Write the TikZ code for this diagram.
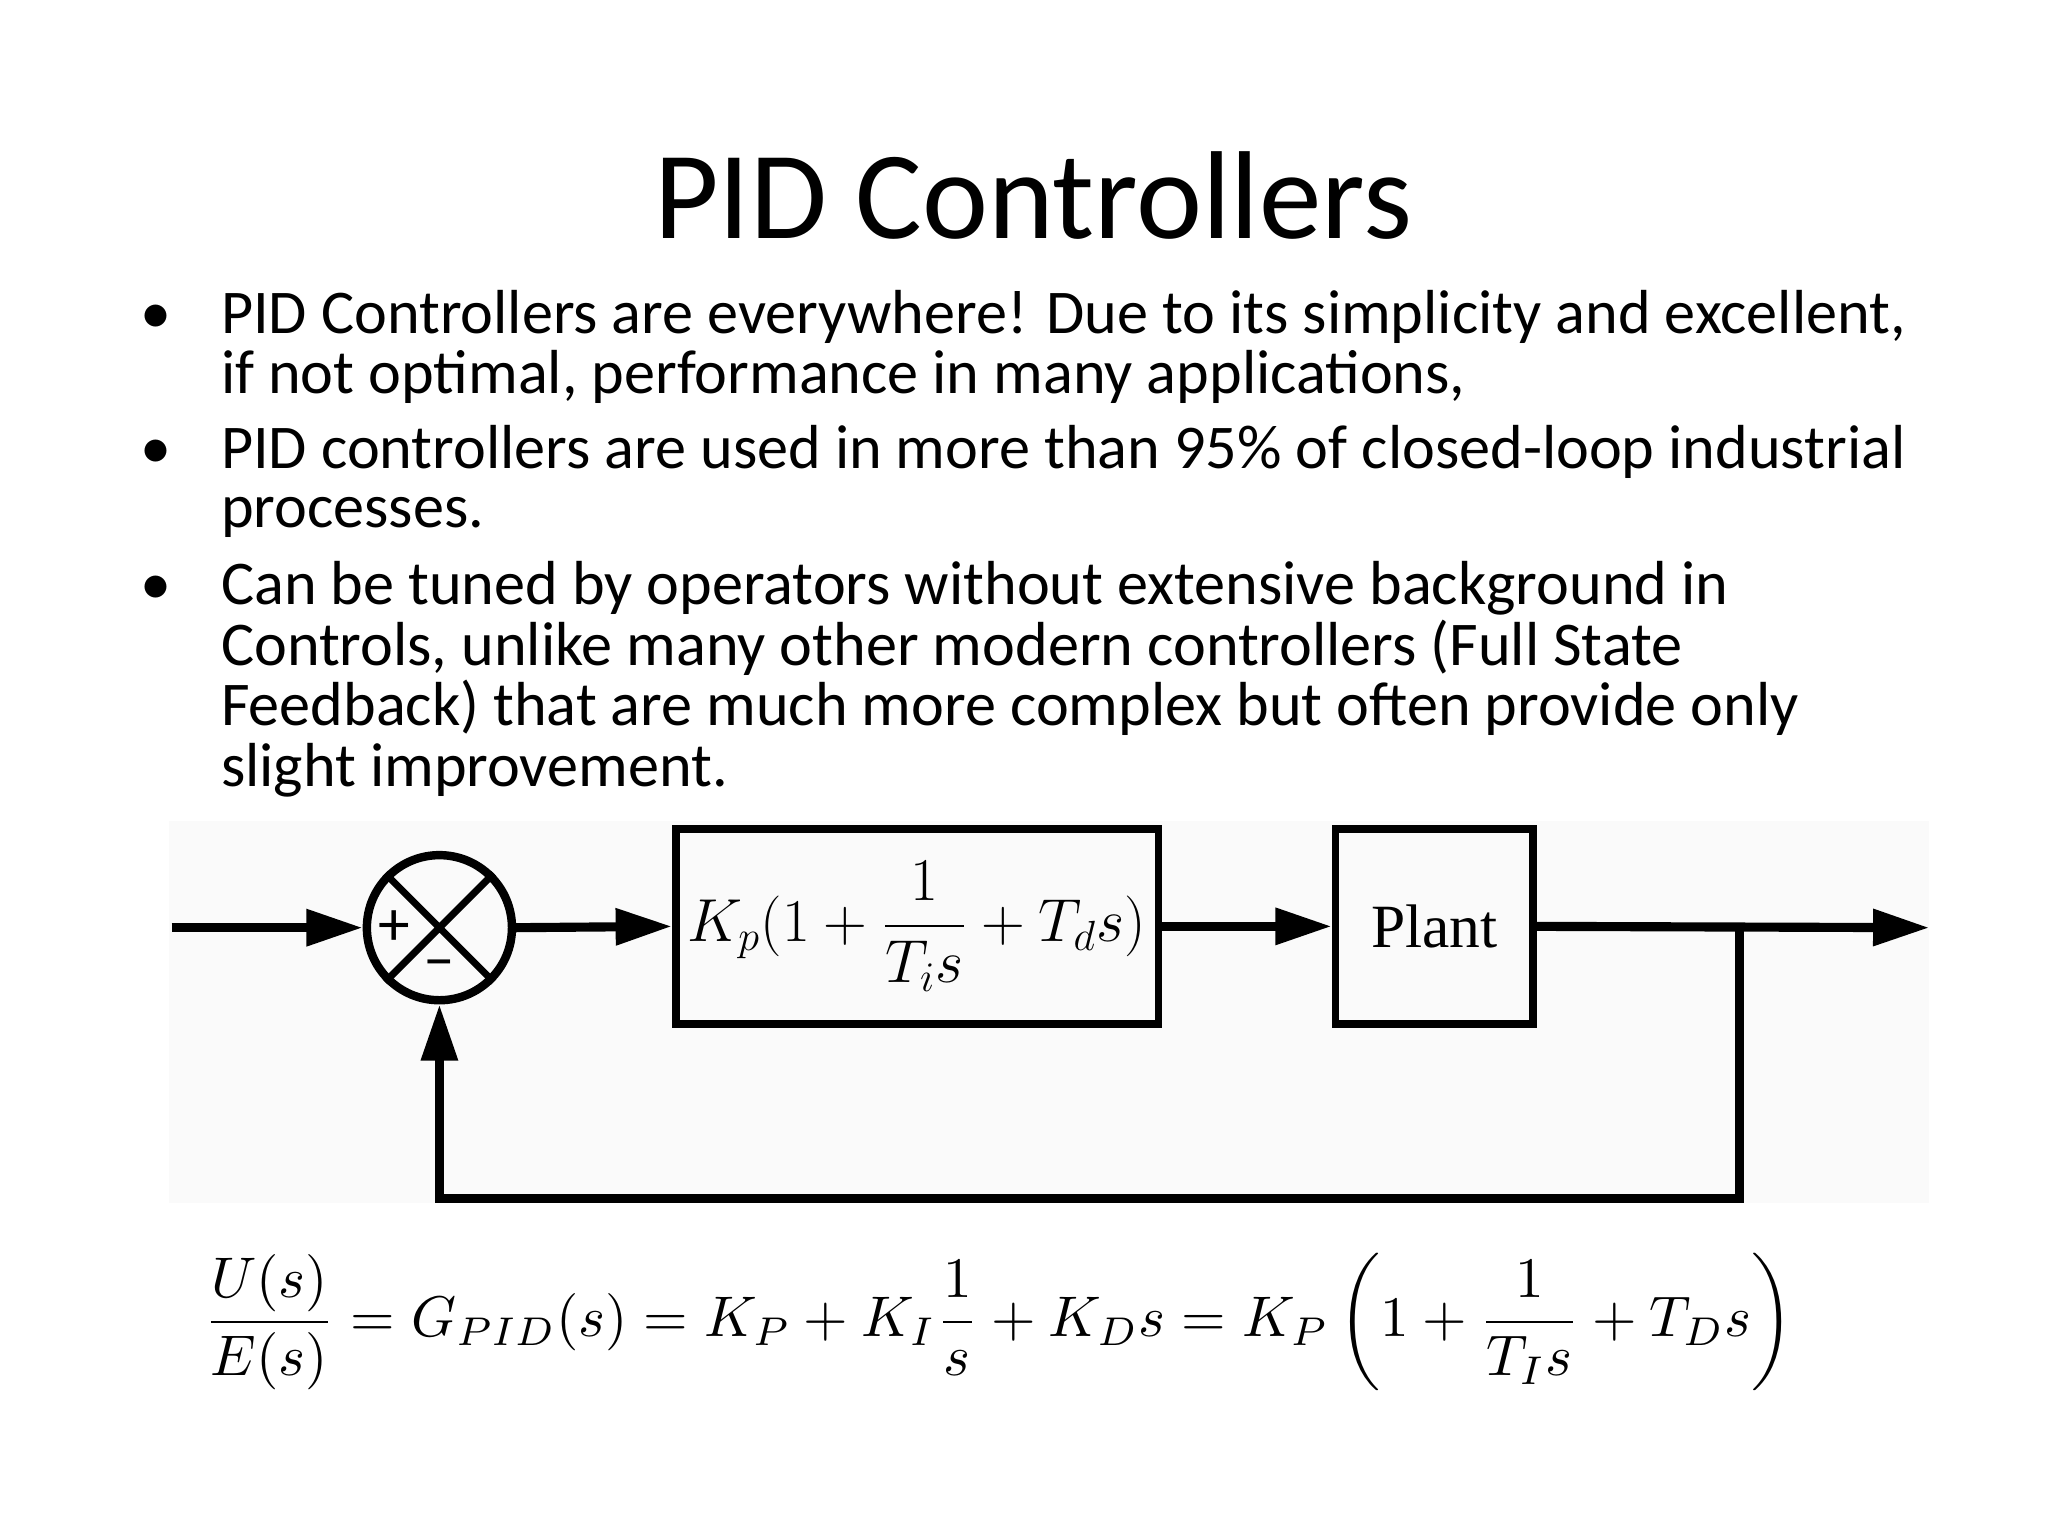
\documentclass[tikz,border=0pt]{standalone}
\usepackage{amsmath}
\usepackage{graphicx}
\usepackage{fontspec}
\setmainfont{Carlito}
\newfontfamily\ser{Liberation Serif}
\usetikzlibrary{arrows.meta}
\begin{document}
\begin{tikzpicture}[x=0.013196cm,y=-0.013196cm,
  ln/.style={line width=2.6pt},
  arr/.style={ln,-{Triangle[length=16pt,width=10pt]}},
  blk/.style={draw,line width=2.2pt,inner sep=0pt,font=\ser\fontsize{17.5}{19}\selectfont},
  bul/.style={anchor=base west,inner sep=0pt,font=\fontsize{17.7}{19}\selectfont}]
\useasboundingbox (0,0) rectangle (1552,1164);
\fill[gray!4] (128,622) rectangle (1462,912);
\node[font=\fontsize{35.6}{38}\selectfont] (title) at (783,148) {PID Controllers};
\node[bul] (b1) at (106,253) {•};
\node[bul] (t1a) at (167,253) {PID Controllers are everywhere! Due to its simplicity and excellent,};
\node[bul] (t1b) at (167,298) {if not optimal, performance in many applications,};
\node[bul] (b2) at (106,355) {•};
\node[bul] (t2a) at (167,355) {PID controllers are used in more than 95\% of closed-loop industrial};
\node[bul] (t2b) at (167,400) {processes.};
\node[bul] (b3) at (106,458) {•};
\node[bul] (t3a) at (167,458) {Can be tuned by operators without extensive background in};
\node[bul] (t3b) at (167,504) {Controls, unlike many other modern controllers (Full State};
\node[bul] (t3c) at (167,550) {Feedback) that are much more complex but often provide only};
\node[bul] (t3d) at (167,596) {slight improvement.};
% diagram
\coordinate (in) at (130,703);
\node[circle,draw,line width=2.4pt,minimum size=110*0.3754pt,inner sep=0pt] (sum) at (333,703) {};
\draw[line width=2pt] (sum.north west) -- (sum.south east) (sum.north east) -- (sum.south west);
\node[font=\fontsize{18}{18}\selectfont] (pl) at (299,703) {+};
\node[font=\fontsize{18}{18}\selectfont] (mi) at (333,735) {--};
\node[blk,minimum width=366*0.3754pt,minimum height=148*0.3754pt] (pid) at (695,702) {$K_p(1+\dfrac{1}{T_i s}+T_d s)$};
\node[blk,minimum width=150*0.3754pt,minimum height=148*0.3754pt] (plant) at (1087,702) {Plant};
\coordinate (out) at (1462,703);
\coordinate (br) at (1318,703);
\coordinate (c1) at (1318,908);
\coordinate (c2) at (333,908);
\draw[arr] (in) -- (sum.west);
\draw[arr] (sum.east) -- (pid.west);
\draw[arr] (pid.east) -- (plant.west);
\draw[arr] (plant.east) -- (out);
\draw[arr] (br) -- (c1) -- (c2) -- (sum.south);
% equation
\node (eq) at (757,1002) {\resizebox{15.9cm}{!}{$\dfrac{U(s)}{E(s)}=G_{PID}(s)=K_P+K_I\dfrac{1}{s}+K_Ds=K_P\left(1+\dfrac{1}{T_Is}+T_Ds\right)$}};
\end{tikzpicture}
\end{document}
